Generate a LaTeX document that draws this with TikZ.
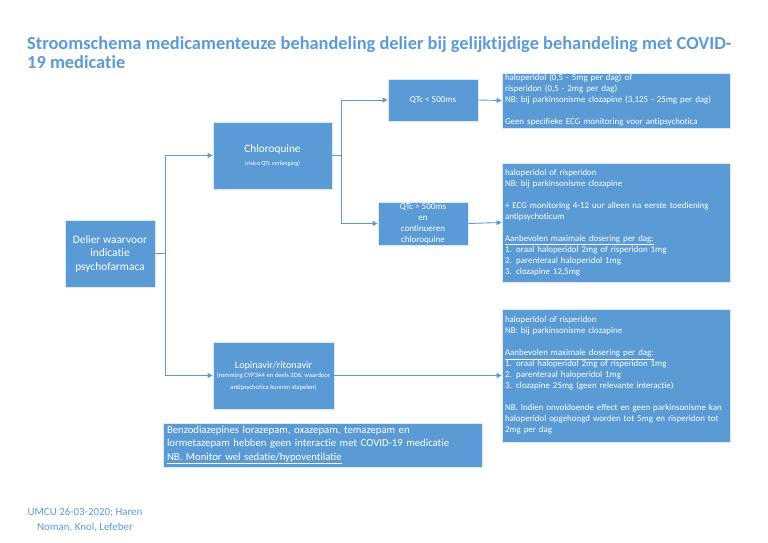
\documentclass[tikz,border=0pt]{standalone}
\usepackage{fontspec}
\setmainfont{Carlito}[Ligatures=NoCommon]
\usetikzlibrary{arrows.meta,shadows}
\definecolor{boxblue}{HTML}{5B9BD5}
\definecolor{edgeblue}{HTML}{5B9BD5}
\definecolor{titleblue}{HTML}{5B9BD5}
\begin{document}
\begin{tikzpicture}[x=1pt,y=-1pt,
  box/.style={fill=boxblue, draw=white!80!boxblue, line width=0.8pt, inner sep=0pt, text=white,
    drop shadow={shadow xshift=1pt,shadow yshift=-1.2pt,opacity=0.3,fill=black!70}},
  conn/.style={draw=edgeblue, line width=0.9pt},
  arr/.style={conn, -{Triangle[length=5pt,width=5pt]}},
  big/.style={font=\fontsize{11.4}{13.5}\selectfont},
  med/.style={font=\fontsize{9}{11}\selectfont},
  rtext/.style={font=\fontsize{8.9}{11}\selectfont, text width=222pt, align=left},
  titlestyle/.style={anchor=base west, inner sep=0pt, text=titleblue, font=\fontsize{18.4}{20}\selectfont\bfseries}
]
\useasboundingbox (0,0) rectangle (768,543);

\node[titlestyle] (title1) at (27,49) {Stroomschema medicamenteuze behandeling delier bij gelijktijdige behandeling met COVID-};
\node[titlestyle] (title2) at (27,69) {19 medicatie};

\node[box, minimum width=90, minimum height=67, align=center, big] (delier) at (110,253.5)
  {Delier waarvoor\\indicatie\\psychofarmaca};

\node[box, minimum width=119, minimum height=67, align=center] (chloro) at (272.5,155.5)
  {{\fontsize{11.3}{12}\selectfont Chloroquine}\\[1pt]{\fontsize{6.2}{7}\selectfont (risico QTc verlenging)}};

\node[box, minimum width=121, minimum height=67, align=center] (lopi) at (273.5,375.5)
  {{\fontsize{10.2}{12}\selectfont Lopinavir/ritonavir}\\[-3pt]{\fontsize{6.6}{10}\selectfont (remming CYP3A4 en deels 2D6, waardoor}\\{\fontsize{6.6}{10}\selectfont antipsychotica kunnen stapelen)}};

\node[box, minimum width=90, minimum height=42, align=center, med] (qtc1) at (433,100)
  {QTc < 500ms};

\node[box, minimum width=90, minimum height=43, align=center, med] (qtc2) at (423,223.5)
  {QTc > 500ms\\en\\continueren\\chloroquine};

\node[box, minimum width=228, minimum height=55, rtext] (box1) at (616,100.5)
  {haloperidol (0,5 - 5mg per dag) of\\
   risperidon (0,5 - 2mg per dag)\\
   NB: bij parkinsonisme clozapine (3,125 - 25mg per dag)\\[11pt]
   Geen specifieke ECG monitoring voor antipsychotica};

\node[box, minimum width=228, minimum height=119, rtext] (box2) at (616,222.5)
  {haloperidol of risperidon\\
   NB: bij parkinsonisme clozapine\\[11pt]
   + ECG monitoring 4-12 uur alleen na eerste toediening\\
   antipsychoticum\\[11pt]
   \underline{Aanbevolen maximale dosering per dag:}\\
   1. oraal haloperidol 2mg of risperidon 1mg\\
   2. parenteraal haloperidol 1mg\\
   3. clozapine 12,5mg};

\node[box, minimum width=228, minimum height=133, rtext] (box3) at (616,375.5)
  {haloperidol of risperidon\\
   NB: bij parkinsonisme clozapine\\[11pt]
   \underline{Aanbevolen maximale dosering per dag:}\\
   1. oraal haloperidol 2mg of risperidon 1mg\\
   2. parenteraal haloperidol 1mg\\
   3. clozapine 25mg (geen relevante interactie)\\[11pt]
   NB. Indien onvoldoende effect en geen parkinsonisme kan\\
   haloperidol opgehoogd worden tot 5mg en risperidon tot\\
   2mg per dag};

\node[box, minimum width=319, minimum height=44, text width=311pt, align=left, font=\fontsize{10.7}{13.5}\selectfont] (benzo) at (322.5,445)
  {Benzodiazepines lorazepam, oxazepam, temazepam en\\
   lormetazepam hebben geen interactie met COVID-19 medicatie\\
   \underline{NB. Monitor wel sedatie/hypoventilatie}};

\node[text=titleblue, align=center, inner sep=0pt, font=\fontsize{10.9}{14.5}\selectfont] (credit) at (85,520)
  {UMCU 26-03-2020; Haren\\Noman, Knol, Lefeber};

% connectors
\coordinate (j1) at (165,253.5);
\coordinate (j2) at (341,155.5);
\draw[conn] (delier.east) -- (j1);
\draw[arr] (j1) |- (chloro.west);
\draw[arr] (j1) |- (lopi.west);
\draw[conn] (chloro.east) -- (j2);
\draw[arr] (j2) |- (qtc1.west);
\draw[arr] (j2) |- (qtc2.west);
\draw[arr] (qtc1.east) -- (box1.west);
\draw[arr] (qtc2.east) -- (box2.west);
\draw[arr] (lopi.east) -- (box3.west);
\end{tikzpicture}
\end{document}
